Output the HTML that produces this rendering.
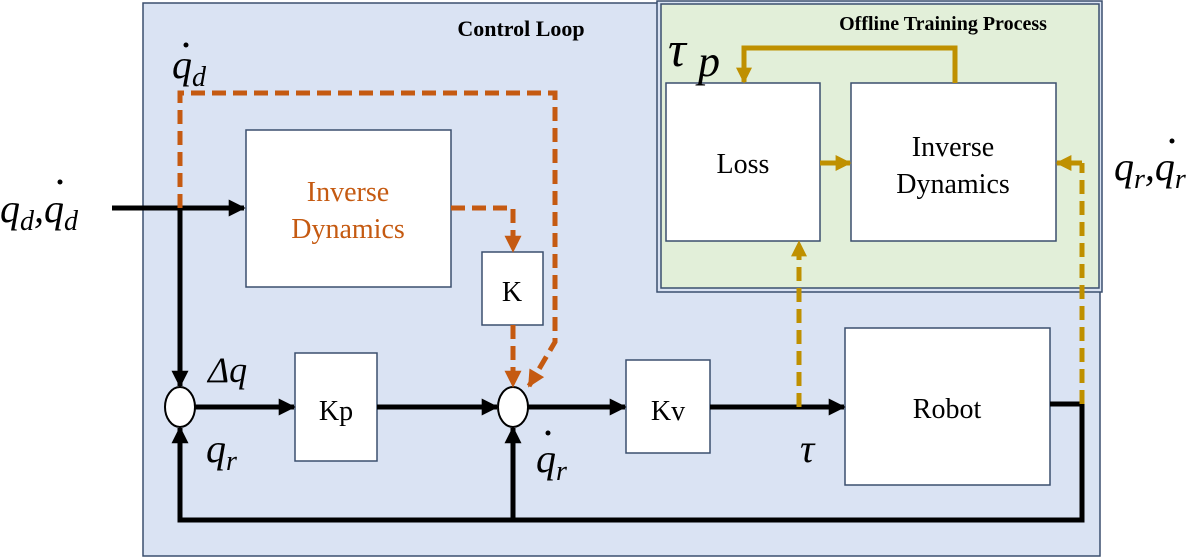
<!DOCTYPE html>
<html><head><meta charset="utf-8"><style>body{margin:0;background:#fff}svg{display:block}</style></head><body>
<svg width="1200" height="559" viewBox="0 0 1200 559" xmlns="http://www.w3.org/2000/svg" font-family="Liberation Serif, serif">
<defs>
<marker id="ab2" viewBox="0 0 10 10" markerWidth="18" markerHeight="17" refX="9" refY="5" orient="auto" markerUnits="userSpaceOnUse"><path d="M0,0 L10,5 L0,10 z" fill="#000"/></marker>
<marker id="ao" viewBox="0 0 10 10" markerWidth="18" markerHeight="17" refX="9" refY="5" orient="auto" markerUnits="userSpaceOnUse"><path d="M0,0 L10,5 L0,10 z" fill="#c55a11"/></marker>
<marker id="ag" viewBox="0 0 10 10" markerWidth="16" markerHeight="16" refX="9" refY="5" orient="auto" markerUnits="userSpaceOnUse"><path d="M0,0 L10,5 L0,10 z" fill="#bf9000"/></marker>
</defs>
<rect x="143" y="3" width="957" height="553" fill="#dae3f3" stroke="#3b4f6e" stroke-width="1.5"/>
<rect x="657" y="1" width="445" height="291" fill="#dae3f3" stroke="#3b4f6e" stroke-width="1.5"/>
<rect x="661" y="4" width="438" height="284" fill="#e2efd9" stroke="#3b4f6e" stroke-width="1.5"/>
<text x="521" y="36" font-size="22" font-weight="bold" text-anchor="middle">Control Loop</text>
<text x="943" y="30" font-size="20" font-weight="bold" text-anchor="middle">Offline Training Process</text>
<g fill="#fff" stroke="#3b4f6e" stroke-width="1.5">
<rect x="246" y="130" width="205" height="157"/>
<rect x="482" y="252" width="61" height="73"/>
<rect x="295" y="353" width="82" height="108"/>
<rect x="626" y="360" width="84" height="93"/>
<rect x="845" y="328" width="205" height="157"/>
<rect x="666" y="83" width="154" height="158"/>
<rect x="851" y="83" width="205" height="158"/>
</g>
<g font-size="28" text-anchor="middle">
<text x="348" y="201" fill="#c55a11">Inverse</text>
<text x="348" y="238" fill="#c55a11">Dynamics</text>
<text x="512" y="301">K</text>
<text x="336" y="420">Kp</text>
<text x="668" y="420">Kv</text>
<text x="947" y="418">Robot</text>
<text x="743" y="173">Loss</text>
<text x="953" y="156">Inverse</text>
<text x="953" y="193">Dynamics</text>
</g>
<g stroke="#000" stroke-width="5" fill="none">
<line x1="112" y1="208" x2="244" y2="208" marker-end="url(#ab2)"/>
<line x1="180" y1="208" x2="180" y2="386" marker-end="url(#ab2)"/>
<line x1="195" y1="407" x2="294" y2="407" marker-end="url(#ab2)"/>
<line x1="377" y1="407" x2="497" y2="407" marker-end="url(#ab2)"/>
<line x1="528" y1="407" x2="625" y2="407" marker-end="url(#ab2)"/>
<line x1="710" y1="407" x2="844" y2="407" marker-end="url(#ab2)"/>
<polyline points="1050,404 1082,404 1082,520 180,520 180,428" marker-end="url(#ab2)"/>
<line x1="513" y1="520" x2="513" y2="428" marker-end="url(#ab2)"/>
</g>
<ellipse cx="180" cy="407" rx="15" ry="20" fill="#fff" stroke="#000" stroke-width="2"/>
<ellipse cx="513" cy="407" rx="15" ry="20" fill="#fff" stroke="#000" stroke-width="2"/>
<g stroke="#c55a11" stroke-width="5" fill="none" stroke-dasharray="14,7">
<polyline points="180,208 180,93 555,93 555,342 529,386" marker-end="url(#ao)"/>
<polyline points="451,208 513,208 513,251" marker-end="url(#ao)"/>
<line x1="513" y1="325" x2="513" y2="386" marker-end="url(#ao)"/>
</g>
<g stroke="#bf9000" stroke-width="5" fill="none">
<polyline points="955,83 955,48 744,48 744,82" marker-end="url(#ag)"/>
<line x1="820" y1="163" x2="850" y2="163" marker-end="url(#ag)"/>
<line x1="1082" y1="404" x2="1082" y2="163" stroke-dasharray="14,7"/>
<line x1="1082" y1="163" x2="1057" y2="163" marker-end="url(#ag)"/>
<line x1="799" y1="407" x2="799" y2="242" stroke-dasharray="14,7" marker-end="url(#ag)"/>
</g>
<g font-style="italic" font-size="40">
<text x="0" y="222">q<tspan font-size="28" dy="8">d</tspan><tspan dy="-8">,q</tspan><tspan font-size="28" dy="8">d</tspan></text>
<text x="172" y="78">q<tspan font-size="28" dy="8">d</tspan></text>
<text x="208" y="382" font-size="36">Δq</text>
<text x="206" y="462">q<tspan font-size="28" dy="8">r</tspan></text>
<text x="536" y="472">q<tspan font-size="28" dy="8">r</tspan></text>
<text x="800" y="462">τ</text>
<text x="668" y="66" font-size="50">τ</text>
<text x="698" y="76" font-size="44">p</text>
<text x="1114" y="180">q<tspan font-size="28" dy="8">r</tspan><tspan dy="-8">,q</tspan><tspan font-size="28" dy="8">r</tspan></text>
</g>
<g fill="#000">
<circle cx="60" cy="182" r="2.5"/>
<circle cx="186" cy="45" r="2.5"/>
<circle cx="548" cy="433" r="2.5"/>
<circle cx="1172" cy="141" r="2.5"/>
</g>
</svg>
</body></html>
